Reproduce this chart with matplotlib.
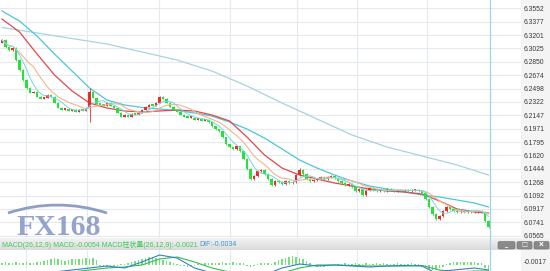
import numpy as np
import pandas as pd
import matplotlib
matplotlib.use("Agg")
import matplotlib.pyplot as plt
from matplotlib.patches import FancyBboxPatch, PathPatch
from matplotlib.path import Path
from matplotlib.lines import Line2D

# ---------------- data ----------------
closes = [
    6.3134, 6.3043, 6.3004, 6.3030, 6.2873, 6.2743, 6.2613, 6.2508, 6.2443, 6.2456,
    6.2391, 6.2365, 6.2378, 6.2417, 6.2391, 6.2313, 6.2247, 6.2221, 6.2234, 6.2208,
    6.2221, 6.2195, 6.2221, 6.2208, 6.2247, 6.2456, 6.2378, 6.2300, 6.2287, 6.2273,
    6.2313, 6.2273, 6.2247, 6.2182, 6.2130, 6.2156, 6.2130, 6.2169, 6.2156, 6.2182,
    6.2221, 6.2260, 6.2287, 6.2273, 6.2313, 6.2391, 6.2365, 6.2313, 6.2260, 6.2221,
    6.2195, 6.2156, 6.2130, 6.2117, 6.2117, 6.2091, 6.2104, 6.2078, 6.2091, 6.2052,
    6.2000, 6.1960, 6.1934, 6.1856, 6.1765, 6.1726, 6.1700, 6.1739, 6.1673, 6.1569,
    6.1439, 6.1309, 6.1348, 6.1413, 6.1426, 6.1374, 6.1309, 6.1230, 6.1282, 6.1269,
    6.1243, 6.1282, 6.1256, 6.1269, 6.1360, 6.1426, 6.1374, 6.1309, 6.1282, 6.1295,
    6.1309, 6.1334, 6.1309, 6.1334, 6.1348, 6.1321, 6.1282, 6.1256, 6.1230, 6.1243,
    6.1204, 6.1152, 6.1178, 6.1100, 6.1165, 6.1191, 6.1165, 6.1152, 6.1165, 6.1152,
    6.1178, 6.1165, 6.1152, 6.1165, 6.1152, 6.1165, 6.1152, 6.1165, 6.1165, 6.1152,
    6.1126, 6.1047, 6.0943, 6.0852, 6.0787, 6.0826, 6.0891, 6.0943, 6.0917, 6.0891,
    6.0878, 6.0891, 6.0878, 6.0891, 6.0878, 6.0878, 6.0891, 6.0878, 6.0761, 6.0682,
]
first_open = 6.3100
wick = 0.0010
long_wicks = {25: (6.2508, 6.2052), 85: (6.1452, 6.1350), 103: (6.1191, 6.1087)}

ma_long_idx = [0, 10, 20, 30, 40, 50, 60, 70, 80, 90, 100, 110, 120, 130, 139]
ma_long = [6.3300, 6.3228, 6.3155, 6.3083, 6.2978, 6.2873, 6.2728, 6.2531, 6.2308,
           6.2098, 6.1888, 6.1730, 6.1612, 6.1494, 6.1362]
ma_idx = [0, 5, 10, 15, 20, 25, 30, 35, 40, 45, 50, 55, 60, 65, 70, 75, 80, 85, 90,
          95, 100, 105, 110, 115, 120, 125, 130, 135, 139]
ma_mid = [6.3517, 6.3385, 6.3188, 6.2952, 6.2728, 6.2505, 6.2347, 6.2282, 6.2249,
          6.2229, 6.2209, 6.2177, 6.2137, 6.2058, 6.1966, 6.1848, 6.1704, 6.1559,
          6.1454, 6.1362, 6.1283, 6.1218, 6.1178, 6.1139, 6.1100, 6.1073, 6.1034,
          6.0994, 6.0942]
ma_red = [6.3411, 6.3241, 6.2952, 6.2676, 6.2466, 6.2308, 6.2242, 6.2203, 6.2190,
          6.2203, 6.2216, 6.2203, 6.2150, 6.2072, 6.1861, 6.1625, 6.1454, 6.1362,
          6.1310, 6.1257, 6.1218, 6.1178, 6.1152, 6.1139, 6.1113, 6.1021, 6.0916,
          6.0876, 6.0862]

y_ticks = [6.3552, 6.3377, 6.3201, 6.3025, 6.2850, 6.2674, 6.2498, 6.2322, 6.2147,
           6.1971, 6.1795, 6.1620, 6.1444, 6.1268, 6.1092, 6.0917, 6.0741, 6.0565]
y_labels = ["6.3552", "6.3377", "6.3201", "6.3025", "6.2850", "6.2674", "6.2498",
            "6.2322", "6.2147", "6.1971", "6.1795", "6.1620", "6.1444", "6.1268",
            "6.1092", "6.0917", "6.0741", "6.0565"]

# MACD histogram (units of 1e-4)
macd_hist = [
    1.0, 1.2, 0.8, 1.0, 1.2, 0.9, 1.0, 1.1, 0.8, 1.0, 1.2,
    1.5, 2.0, 2.5, 3.0, 3.5, 3.0, 2.5, 2.0, 2.5, 3.0, 2.8, 2.6, 3.0, 3.2, 2.8, 3.5, 2.5,
    -0.5, -1.0, -1.2, -1.0, -0.8, -0.5, 0.3, 0.5, 0.8,
    1.5, 2.0, 2.5, 3.0, 3.5, 4.0, 4.0, 3.5, 3.0, 2.5, 2.0, 1.5, 1.0,
    0.5, -0.5, -0.8, -1.0, -0.8, -0.5, 0.3, 0.5, 0.8, 0.6,
    0.8, 1.0, 0.9, 1.2, 1.0, 0.8, 1.1, 0.9, 1.0, 0.8, -0.5, -1.0, -0.8, 0.5, 0.8, 1.0, 0.6, 0.5,
    1.5, 2.5, 3.0, 3.5, 4.0, 4.5, 4.0, 3.5, 3.0, 2.0, 1.0,
    -0.5, -1.0, -1.2, -1.0, -0.8, -0.5, -0.3, 0.3, 0.5, 0.6, 0.5,
    0.5, 0.6, 0.4, 0.5, 0.6, 0.5, 0.4, 0.6, 0.5, 0.6, 0.5, 0.4, 0.5, 0.6, 0.5, 0.4, 0.5, 0.6, 0.5, 0.4,
    -1.0, -1.5, -2.0, -2.5, -2.0, -1.5, -1.0, 0.5,
    1.0, 1.2, 1.3, 1.2, 1.3, 1.2, 1.3, 1.2, 1.0, 1.0,
    -1.5, -2.5,
]
macd_idx = [0, 5, 10, 15, 20, 25, 30, 35, 40, 45, 50, 55, 60, 65, 70, 75, 80, 85, 90,
            95, 100, 105, 110, 115, 120, 125, 130, 135, 139]
dif = [-5.25, -5.25, -4.75, -3.75, -2.75, -1.75, -0.75, -1.75, 1.25, 4.75, 3.25, -1.75,
       -4.25, -5.75, -6.75, -5.25, -1.75, 0.25, -0.75, -0.25, -0.75, -1.25, -0.75, -0.5,
       -0.75, -5.25, -3.75, -1.75, -2.75]
dea = [-4.75, -5.25, -5.25, -4.75, -3.75, -2.75, -1.75, -1.25, -0.25, 2.75, 3.75, 1.25,
       -1.75, -3.75, -5.25, -5.75, -4.25, -1.75, -0.25, -0.25, -0.5, -0.75, -0.75, -0.75,
       -0.5, -2.75, -3.75, -3.25, -3.25]
macd_title = "MACD(26,12,9) MACD:-0.0054 MACD柱状量(26,12,9):-0.0021"
dif_title = "DIF:-0.0034"
macd_tick_label = "-0.0017"
vgrid_idx = [6.86, 24.29, 44.86, 65.14, 84.29, 101.43, 121.43]

# ---------------- figure ----------------
W, H = 550, 271
fig = plt.figure(figsize=(W / 100, H / 100), dpi=100, facecolor="#f4f4f4")

def fy(y):
    return 1 - y / H

RED, GREEN = "#ee2b2b", "#27e03a"
GRID = "#e4eaee"
MAIN_BOTTOM = 238

ax = fig.add_axes([0, fy(MAIN_BOTTOM), 521 / W, MAIN_BOTTOM / H])
ax.set_facecolor("white")
for s in ax.spines.values():
    s.set_visible(False)
ax.set_xlim(-2 / 3.5, 519 / 3.5)
ax.set_ylim(6.3661 - MAIN_BOTTOM * 0.0013136, 6.3661)
ax.set_yticks(y_ticks)
ax.set_yticklabels(y_labels)
ax.yaxis.tick_right()
ax.tick_params(axis="y", length=0, pad=2.2, labelsize=4.9, labelcolor="#3a3a3a")
for lbl in ax.get_yticklabels():
    lbl.set_fontfamily("Liberation Sans")
ax.set_xticks(vgrid_idx)
ax.tick_params(axis="x", length=0, labelbottom=False)
ax.grid(True, color=GRID, lw=0.8)
ax.set_axisbelow(True)

c = np.array(closes)
o = np.array([first_open] + closes[:-1])
idx = np.arange(len(c))
up = c >= o
cols = np.where(up, RED, GREEN)
hi = np.maximum(o, c) + wick
lo = np.minimum(o, c) - wick
for k, (h_, l_) in long_wicks.items():
    hi[k], lo[k] = h_, l_

s = pd.Series(c)
ma5 = s.rolling(5, min_periods=1).mean()
ma10 = s.rolling(10, min_periods=1).mean()

ax.plot(ma_long_idx, ma_long, color="#a9d3dd", lw=0.9, zorder=2)
ax.plot(ma_idx, ma_mid, color="#4ec6d6", lw=0.9, zorder=2)
ax.plot(ma_idx, ma_red, color="#df4a4a", lw=0.9, zorder=2)

ax.vlines(idx, lo, hi, colors=cols, lw=0.6, zorder=3)
body_b = np.minimum(o, c)
body_h = np.maximum(np.abs(c - o), 0.0016)
ax.bar(idx, body_h, bottom=body_b, width=0.7, color=cols, lw=0, zorder=3)

ax.plot(idx, ma10, color="#f2b48e", lw=0.8, zorder=4)
ax.plot(idx, ma5, color="#78d6e2", lw=0.7, zorder=4)

# ---------------- MACD panel ----------------
am = fig.add_axes([0, 0, 521 / W, 21 / H])
am.set_facecolor("white")
for s_ in am.spines.values():
    s_.set_visible(False)
am.set_xlim(ax.get_xlim())
am.set_ylim(-3.25, 7.25)
am.set_xticks(vgrid_idx)
am.tick_params(axis="x", length=0, labelbottom=False)
am.grid(True, axis="x", color=GRID, lw=0.8)
am.set_axisbelow(True)
am.yaxis.tick_right()
am.set_yticks([1.25])
am.set_yticklabels([macd_tick_label])
am.tick_params(axis="y", length=0, pad=2.2, labelsize=4.9, labelcolor="#3a3a3a")
for lbl in am.get_yticklabels():
    lbl.set_fontfamily("Liberation Sans")
am.bar(np.arange(len(macd_hist)), macd_hist, width=0.55, color="#74e07c", lw=0)
am.plot(macd_idx, dea, color="#2fbf50", lw=0.8)
am.plot(macd_idx, dif, color="#3a7fc2", lw=0.8)

# ---------------- header strip ----------------
hd = fig.add_axes([0, fy(250), 1, 12 / H])
hd.set_axis_off()
grad = np.linspace(0, 1, 50).reshape(-1, 1)
hd.imshow(grad, aspect="auto", cmap=matplotlib.colors.LinearSegmentedColormap.from_list(
    "g", ["#f3f3f3", "#dadada"]), extent=[0, 1, 0, 1], origin="upper")
hd.set_xlim(0, 1)
hd.set_ylim(0, 1)

fam = ["Liberation Sans", "Noto Sans CJK SC"]
fig.text(2 / W, fy(245), macd_title, fontsize=5.0, color="#3ccc58",
         family=fam, va="center", ha="left")
fig.text(199 / W, fy(245), dif_title, fontsize=5.0, color="#3b98cc",
         family=fam, va="center", ha="left")

for (x0, x1), sym in zip([(498, 515), (517, 532), (534, 549)], ["_", "□", "X"]):
    fig.patches.append(FancyBboxPatch((x0 / W, fy(249)), (x1 - x0) / W, 7.5 / H,
                                      boxstyle="round,pad=0,rounding_size=0.004",
                                      transform=fig.transFigure, fc="#8a8a8a",
                                      ec="#6e6e6e", lw=0.4, zorder=5))
    fig.text((x0 + x1) / 2 / W, fy(245), sym, fontsize=4.5, color="white",
             ha="center", va="center", fontweight="bold", family="DejaVu Sans", zorder=6)

# ---------------- cursor line ----------------
fig.canvas.draw()
xp = ax.transData.transform((idx[-1] + 0.3, 0))[0]
fig.add_artist(Line2D([xp / W, xp / W], [0, 1], transform=fig.transFigure,
                      color="#9fd5dc", lw=0.9, zorder=4))

# ---------------- watermark ----------------
wm = "#7b8dbd"
verts = [(8 / W, fy(213)), (57 / W, fy(197)), (107 / W, fy(213))]
arc = PathPatch(Path(verts, [Path.MOVETO, Path.CURVE3, Path.CURVE3]),
                transform=fig.transFigure, fc="none", ec=wm, lw=2.0, zorder=7, alpha=0.85)
fig.patches.append(arc)
fig.text(16 / W, fy(235), "FX168", fontsize=21.5, family="Liberation Serif",
         fontweight="bold", color=wm, alpha=0.8, ha="left", va="baseline", zorder=7)

fig.savefig("out.png", dpi=100, facecolor=fig.get_facecolor())
